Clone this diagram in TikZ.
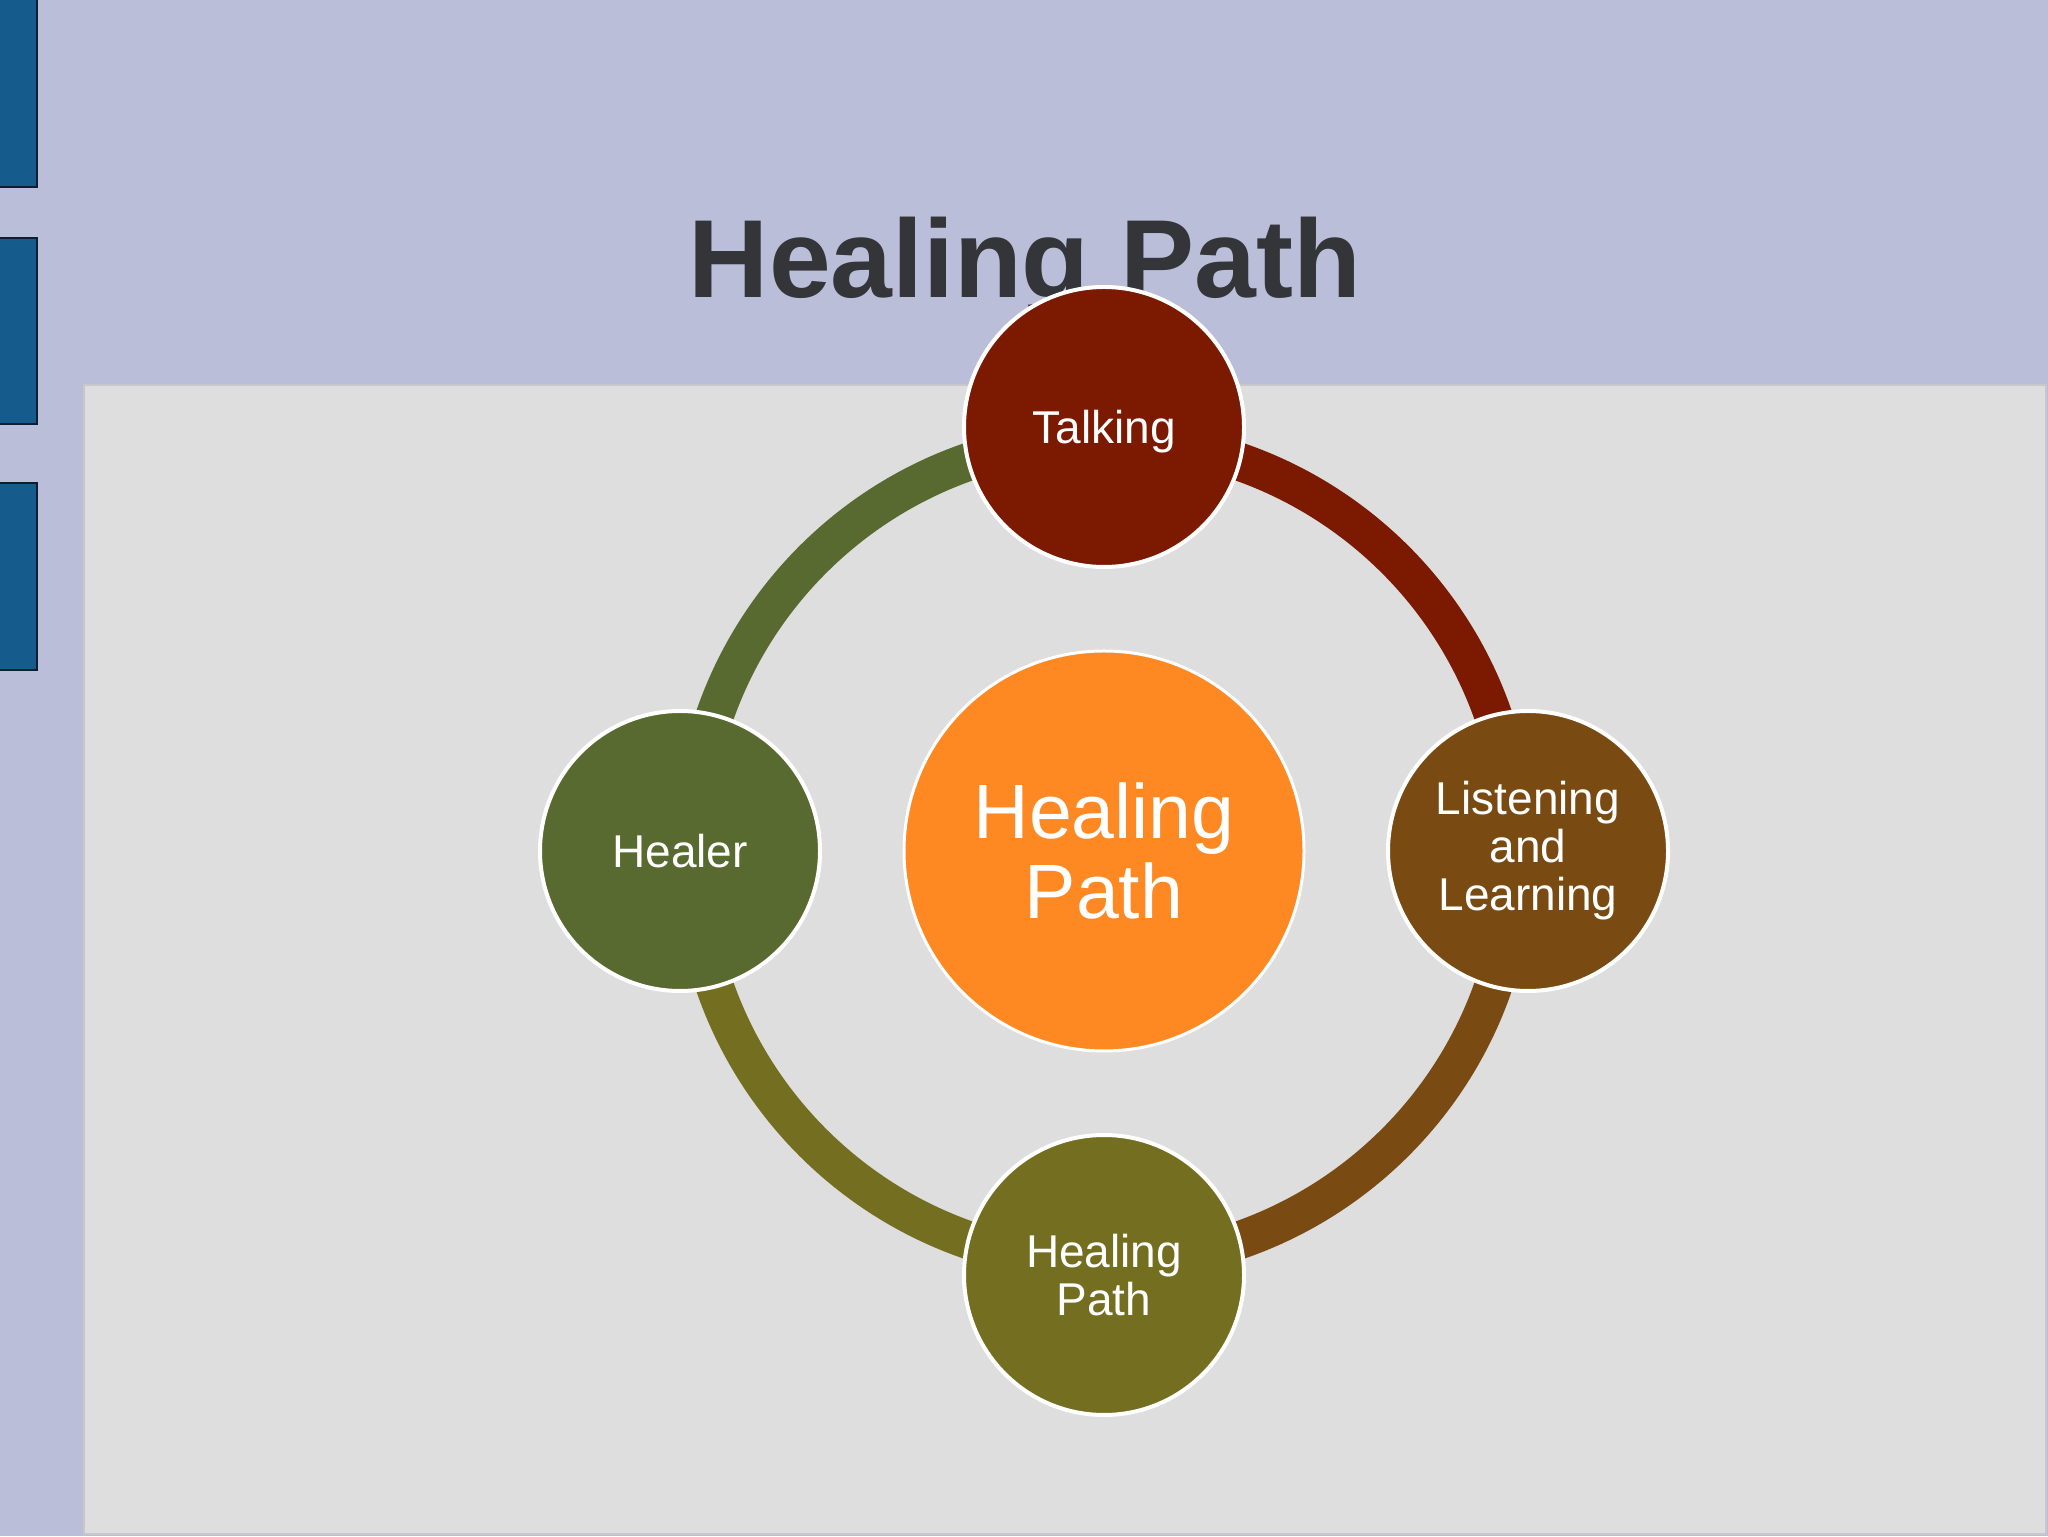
\documentclass[tikz,border=0pt]{standalone}
\usepackage{fontspec}
\setmainfont{Liberation Sans}
\usepackage{tikz}
\usetikzlibrary{backgrounds}
\definecolor{slidelav}{RGB}{187,190,217}
\definecolor{panelgray}{RGB}{222,222,223}
\definecolor{panelline}{RGB}{200,200,204}
\definecolor{tabblue}{RGB}{21,92,141}
\definecolor{tabline}{RGB}{12,30,48}
\definecolor{titlegray}{RGB}{51,53,57}
\definecolor{talkred}{RGB}{123,26,1}
\definecolor{listenbrown}{RGB}{121,75,18}
\definecolor{patholive}{RGB}{116,111,32}
\definecolor{healergreen}{RGB}{88,106,48}
\definecolor{huborange}{RGB}{254,136,34}

\begin{document}
\begin{tikzpicture}[
    x=0.5pt, y=0.5pt,
    sat/.style={circle, draw=white, line width=2pt, minimum size=140pt, inner sep=0pt,
        text=white, align=center, font=\fontsize{23}{24}\selectfont},
    hub/.style={circle, draw=white, line width=1.5pt, minimum size=200pt, inner sep=0pt,
        fill=huborange, text=white, align=center, font=\fontsize{38.5}{40}\selectfont},
    ringarc/.style={line width=19pt},
    tab/.style={fill=tabblue, draw=tabline, line width=1pt}
]
\def \rad{424}
\def \ring{412}
\useasboundingbox (0,0) rectangle (2048,1536);
% Slide background
\begin{scope}[on background layer]
\fill[slidelav] (0,0) rectangle (2048,1536);
\filldraw[fill=panelgray, draw=panelline, line width=1pt] (84,2) rectangle (2046,1151);
\draw[tab] (-2,1538) rectangle (37,1349);
\draw[tab] (-2,1298) rectangle (37,1112);
\draw[tab] (-2,1053) rectangle (37,866);
\end{scope}
% Title
\node[anchor=base, text=titlegray, font=\fontsize{55.5}{58}\selectfont\bfseries] (title) at (1025,1238) {Healing Path};
% Nodes
\node[hub] (hub) at (1104,685) {Healing\\Path};
\node[sat, fill=talkred, text depth=0pt] (talk) at (1104,685+\rad) {Talking};
\node[sat, fill=listenbrown] (listen) at (1104+\rad,685) {Listening\\and\\Learning};
\node[sat, fill=patholive] (path) at (1104,685-\rad) {Healing\\Path};
\node[sat, fill=healergreen] (healer) at (1104-\rad,685) {Healer};
% Ring behind the circles
\begin{scope}[on background layer]
\draw[ringarc, talkred] (hub.center) ++(90:\ring) arc[start angle=90, end angle=0, radius=\ring];
\draw[ringarc, listenbrown] (hub.center) ++(0:\ring) arc[start angle=0, end angle=-90, radius=\ring];
\draw[ringarc, patholive] (hub.center) ++(-90:\ring) arc[start angle=-90, end angle=-180, radius=\ring];
\draw[ringarc, healergreen] (hub.center) ++(180:\ring) arc[start angle=180, end angle=90, radius=\ring];
\end{scope}
\end{tikzpicture}
\end{document}
